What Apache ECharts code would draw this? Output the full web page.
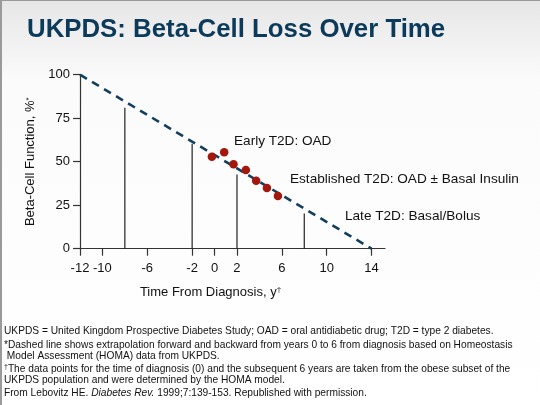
<!DOCTYPE html>
<html>
<head>
<meta charset="utf-8">
<script src="https://cdn.jsdelivr.net/npm/echarts@6/dist/echarts.min.js"></script>
<style>
html,body{margin:0;padding:0;background:#fff;}
#c{width:540px;height:405px;}
</style>
</head>
<body>
<div id="c"></div>
<script>
// ---- data ----
const xTicks = [-12, -10, -6, -2, 0, 2, 6, 10, 14];
const yTicks = [0, 25, 50, 75, 100];
const trendLine = [[-12, 100], [14, 0]];
const stemX = [-8, -2, 2, 8];
const stemY = [81, 60.3, 42.7, 20.3];
const pointX = [-0.24, 0.86, 1.69, 2.79, 3.71, 4.67, 5.65];
const pointY = [52.9, 55.4, 48.5, 45.2, 39.1, 34.9, 30.3];
const stageLabels = ['Early T2D: OAD', 'Established T2D: OAD \u00B1 Basal Insulin', 'Late T2D: Basal/Bolus'];
const footnotes = [
  'UKPDS = United Kingdom Prospective Diabetes Study; OAD = oral antidiabetic drug; T2D = type 2 diabetes.',
  '*Dashed line shows extrapolation forward and backward from years 0 to 6 from diagnosis based on Homeostasis',
  ' Model Assessment (HOMA) data from UKPDS.',
  '{sup|\u2020}The data points for the time of diagnosis (0) and the subsequent 6 years are taken from the obese subset of the',
  'UKPDS population and were determined by the HOMA model.',
  'From Lebovitz HE. {it|Diabetes Rev.} 1999;7:139-153. Republished with permission.'
];

const stems = stemX.map((x, i) => [x, stemY[i]]);
const points = pointX.map((x, i) => [x, pointY[i]]);

const chart = echarts.init(document.getElementById('c'), null, {renderer: 'canvas'});
const FONT = 'Liberation Sans, Arial, sans-serif';

const graphics = [
  {type: 'rect', z: -10, silent: true, shape: {x: 0, y: 0, width: 540, height: 405},
   style: {fill: new echarts.graphic.LinearGradient(0, 0, 0, 1, [
     {offset: 0, color: '#e6e6e6'}, {offset: 0.2, color: '#fbfbfb'}, {offset: 1, color: '#ffffff'}])}},
  {type: 'rect', z: -9, silent: true, shape: {x: 0, y: 0, width: 2, height: 405}, style: {fill: '#9a9a9a'}},
  {type: 'rect', z: -9, silent: true, shape: {x: 0, y: 0, width: 540, height: 1}, style: {fill: '#9a9a9a'}},
  {type: 'text', left: 234, top: 134, style: {text: stageLabels[0], font: '13.6px ' + FONT, fill: '#111'}},
  {type: 'text', left: 290, top: 172, style: {text: stageLabels[1], font: '13.6px ' + FONT, fill: '#111'}},
  {type: 'text', left: 345, top: 209, style: {text: stageLabels[2], font: '13.6px ' + FONT, fill: '#111'}}
];
const lineTops = [326, 340, 351, 364, 375.5, 388.5];
footnotes.forEach((t, i) => {
  graphics.push({type: 'text', left: 4, top: lineTops[i], style: {
    text: t, fontFamily: FONT, fontSize: 10.2, fill: '#111',
    rich: {sup: {fontSize: 7, fontFamily: FONT, fill: '#111', verticalAlign: 'top'},
           it: {fontStyle: 'italic', fontSize: 10.2, fontFamily: FONT, fill: '#111'}}
  }});
});

chart.setOption({
  animation: false,
  title: {
    text: 'UKPDS: Beta-Cell Loss Over Time',
    left: 22, top: 12,
    textStyle: {fontFamily: FONT, fontWeight: 'bold', fontSize: 25.8, color: '#0c3a5a'}
  },
  graphic: graphics,
  grid: {left: 80, right: 155, top: 74.7, bottom: 156.3, containLabel: false},
  xAxis: {
    type: 'value', min: -12, max: 15.2,
    name: 'Time From Diagnosis, y{sup|\u2020}', nameLocation: 'middle', nameGap: 37,
    nameTextStyle: {fontFamily: FONT, fontSize: 13, color: '#111', padding: [0, 44, 0, 0],
      rich: {sup: {fontSize: 8, fontFamily: FONT, color: '#111', verticalAlign: 'top'}}},
    axisLine: {show: true, onZero: false, lineStyle: {color: '#333', width: 1.2}},
    axisTick: {show: true, length: 7, customValues: xTicks, lineStyle: {color: '#333', width: 1.2}},
    axisLabel: {customValues: xTicks, fontFamily: FONT, fontSize: 13, color: '#111', margin: 13,
      showMinLabel: true, showMaxLabel: true},
    splitLine: {show: false}
  },
  yAxis: {
    type: 'value', min: 0, max: 100, interval: 25,
    name: 'Beta-Cell Function, %{sup|*}', nameLocation: 'middle', nameGap: 37, nameRotate: 90,
    nameTextStyle: {fontFamily: FONT, fontSize: 13, color: '#111',
      rich: {sup: {fontSize: 8, fontFamily: FONT, color: '#111', verticalAlign: 'top'}}},
    axisLine: {show: true, onZero: false, lineStyle: {color: '#333', width: 1.2}},
    axisTick: {show: true, length: 7, lineStyle: {color: '#333', width: 1.2}},
    axisLabel: {fontFamily: FONT, fontSize: 13, color: '#111', margin: 10},
    splitLine: {show: false}
  },
  series: [
    {
      type: 'custom', name: 'stems', data: stems, z: 2,
      renderItem: function (params, api) {
        const p0 = api.coord([api.value(0), 0]);
        const p1 = api.coord([api.value(0), api.value(1)]);
        return {type: 'line', shape: {x1: p0[0], y1: p0[1], x2: p1[0], y2: p1[1]},
          style: {stroke: '#222', lineWidth: 1.2}};
      }
    },
    {
      type: 'line', name: 'trend', data: trendLine, symbol: 'none', z: 3,
      lineStyle: {color: '#123f5e', width: 2.6, type: [8, 6]}
    },
    {
      type: 'scatter', name: 'points', data: points, symbol: 'circle', symbolSize: 8.5, z: 4,
      itemStyle: {color: '#a3170d', opacity: 1}
    }
  ]
});
</script>
</body>
</html>
